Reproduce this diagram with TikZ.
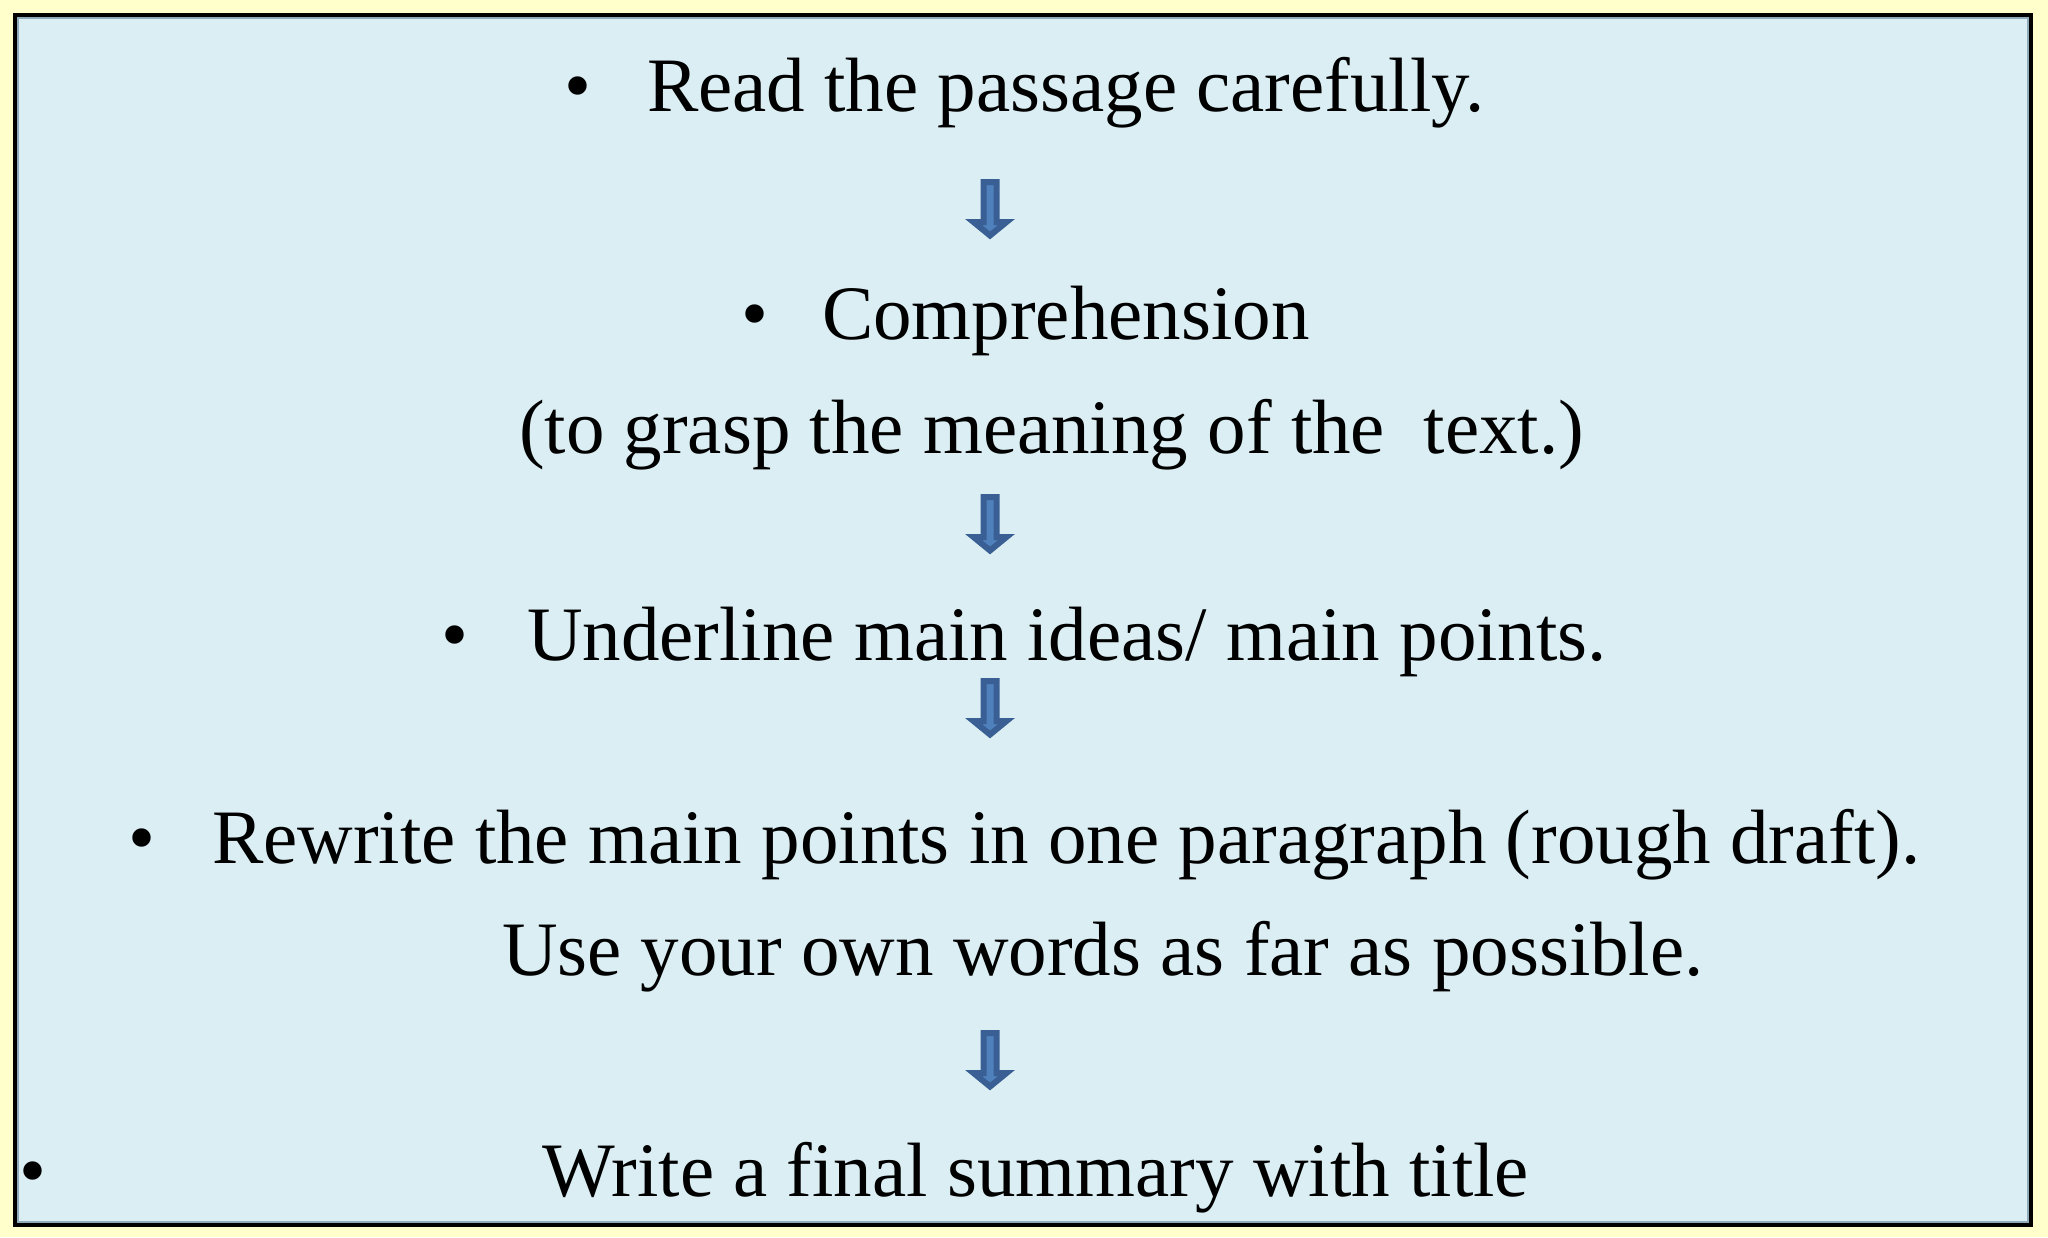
\documentclass[tikz,border=0pt]{standalone}
\usepackage{fontspec}
\setmainfont{Liberation Serif}[Ligatures=NoCommon]
\definecolor{outerbg}{HTML}{FFFFCC}
\definecolor{innerbg}{HTML}{DAEEF3}
\definecolor{innerline}{HTML}{8FAAB8}
\definecolor{arrowfill}{HTML}{4F81BD}
\definecolor{arrowline}{HTML}{3A5F94}
\tikzset{
  txt/.style={inner sep=0pt, outer sep=0pt, anchor=base west, text=black,
    font=\fontsize{38.5pt}{46pt}\selectfont},
  bul/.style={inner sep=0pt, outer sep=0pt, anchor=base, text=black,
    font=\fontsize{38.5pt}{46pt}\selectfont},
  dnarrow/.pic={
    \path[fill=arrowfill, draw=arrowline, line width=3pt, line join=miter]
      (-6.5,3) -- (6.5,3) -- (6.5,43) -- (16.5,43) -- (0,56.5)
      -- (-16.5,43) -- (-6.5,43) -- cycle;
  }
}
\begin{document}
\begin{tikzpicture}[x=0.5pt, y=-0.5pt]
  \useasboundingbox (0,0) rectangle (2048,1237);
  \fill[outerbg] (0,0) rectangle (2048,1237);
  \filldraw[fill=innerbg, draw=black, line width=2pt] (15,15) rectangle (2031,1225);
  \draw[innerline, line width=0.75pt] (18,18) rectangle (2028,1222);

  \node[bul] (b1) at (578,111) {•};
  \node[txt] (t1) at (647,111) {Read the passage carefully.};

  \pic at (990,179) {dnarrow};

  \node[bul] (b2) at (755,339) {•};
  \node[txt] (t2) at (822,339) {Comprehension};
  \node[txt] (t3) at (519,453) {(to grasp the meaning of the~ text.)};

  \pic at (990,494) {dnarrow};

  \node[bul] (b4) at (455,660) {•};
  \node[txt] (t4) at (527,660) {Underline main ideas/ main points.};

  \pic at (990,678) {dnarrow};

  \node[bul] (b5) at (141.5,863) {•};
  \node[txt] (t5) at (212,863) {Rewrite the main points in one paragraph (rough draft).};
  \node[txt] (t6) at (502,975) {Use your own words as far as possible.};

  \pic at (990,1030) {dnarrow};

  \node[bul] (b7) at (32.5,1196) {•};
  \node[txt] (t7) at (542,1196) {Write a final summary with title};
\end{tikzpicture}
\end{document}
